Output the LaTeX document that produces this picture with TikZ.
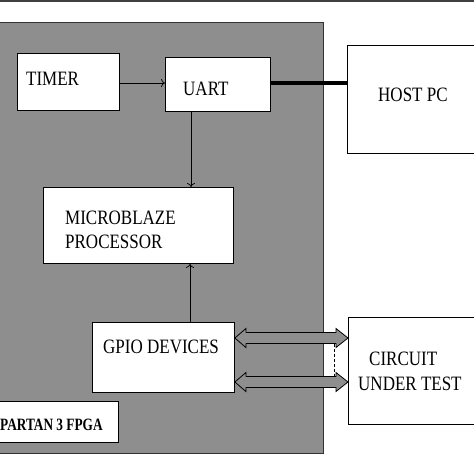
\documentclass[tikz,border=0pt]{standalone}
\usepackage{fontspec}
\setmainfont{Liberation Serif}
\newfontfamily\timesx{Liberation Serif}
\usepackage{graphicx}
\usetikzlibrary{arrows.meta,calc}
\newcommand\talltext[2][1.2]{\scalebox{1}[#1]{#2}}
\definecolor{fpgagray}{HTML}{8E8E8E}
\definecolor{topbar}{HTML}{404040}
\tikzset{
  wbox/.style={draw=black,line width=0.9pt,fill=white,inner sep=0pt,anchor=north west},
  lbl/.style={inner sep=0pt,anchor=base west,font=\timesx\fontsize{17}{20}\selectfont},
  thinarrow/.style={line width=0.7pt,-{To[length=4pt,width=8pt]}},
  fat/.style={draw=black,line width=0.8pt,fill=fpgagray,line join=miter}
}
\begin{document}
\begin{tikzpicture}[x=1pt,y=-1pt]
\useasboundingbox (0,0) rectangle (474,474);
\fill[white] (0,0) rectangle (474,474);
% top bar
\fill[topbar] (0,0) rectangle (474,2.2);
% FPGA
\node[draw=black!80,line width=0.8pt,fill=fpgagray,inner sep=0pt,anchor=north west,minimum width=328pt,minimum height=431pt] (fpga) at (-5,22) {};
% boxes
\node[wbox,minimum width=102pt,minimum height=57pt] (timer) at (17,53) {};
\node[wbox,minimum width=105pt,minimum height=54pt] (uart) at (165,57) {};
\node[wbox,minimum width=135pt,minimum height=108pt] (host) at (347,45) {};
\node[wbox,minimum width=190pt,minimum height=76pt] (mb) at (43,187) {};
\node[wbox,minimum width=142pt,minimum height=70pt] (gpio) at (92,322) {};
\node[wbox,minimum width=135pt,minimum height=107pt] (cut) at (348,317) {};
\node[wbox,minimum width=123pt,minimum height=41pt] (spartan) at (-5,401) {};
% texts
\node[lbl] (timert) at (26,85) {\talltext{TIMER}};
\node[lbl] (uartt) at (183,95) {\talltext{UART}};
\node[lbl] (hostt) at (378,101.5) {\talltext{HOST PC}};
\node[lbl] (mbt1) at (65,224) {\talltext{MICROBLAZE}};
\node[lbl] (mbt2) at (65,248) {\talltext{PROCESSOR}};
\node[lbl] (gpiot) at (103,353) {\talltext{GPIO DEVICES}};
\node[lbl] (cutt1) at (369,365) {\talltext{CIRCUIT}};
\node[lbl] (cutt2) at (358,390) {\talltext{UNDER TEST}};
\node[lbl,font=\timesx\fontsize{13.3}{16}\selectfont\bfseries] (spartant) at (0,430) {\talltext[1.3]{PARTAN 3 FPGA}};
% connectors
\draw[thinarrow] (timer.east |- 0,83) -- (uart.west |- 0,83);
\draw[line width=3.2pt] (uart.east |- 0,83) -- (host.west |- 0,83);
\draw[thinarrow] (uart.south -| 191,0) -- (mb.north -| 191,0);
\draw[thinarrow] (gpio.north -| 190,0) -- (mb.south -| 190,0);
% fat double arrows
\coordinate (ua) at (0,338);
\coordinate (la) at (0,382);
\path (gpio.east |- ua) coordinate (ul) (cut.west |- ua) coordinate (ur);
\path (gpio.east |- la) coordinate (ll) (cut.west |- la) coordinate (lr);
\draw[fat] (ul) -- ++(11,-9.5) -- ++(0,4) -- ($(ur)+(-12,-5.5)$) -- ++(0,-4) -- (ur)
  -- ++(-12,9.5) -- ++(0,-4) -- ($(ul)+(11,5.5)$) -- ++(0,4) -- cycle;
\draw[fat] (ll) -- ++(11,-9.5) -- ++(0,4) -- ($(lr)+(-12,-5.5)$) -- ++(0,-4) -- (lr)
  -- ++(-12,9.5) -- ++(0,-4) -- ($(ll)+(11,5.5)$) -- ++(0,4) -- cycle;
\draw[dashed,line width=0.7pt,dash pattern=on 3pt off 2pt] ($(ua)+(334,5.5)$) -- ($(la)+(334,-5.5)$);
\end{tikzpicture}
\end{document}
